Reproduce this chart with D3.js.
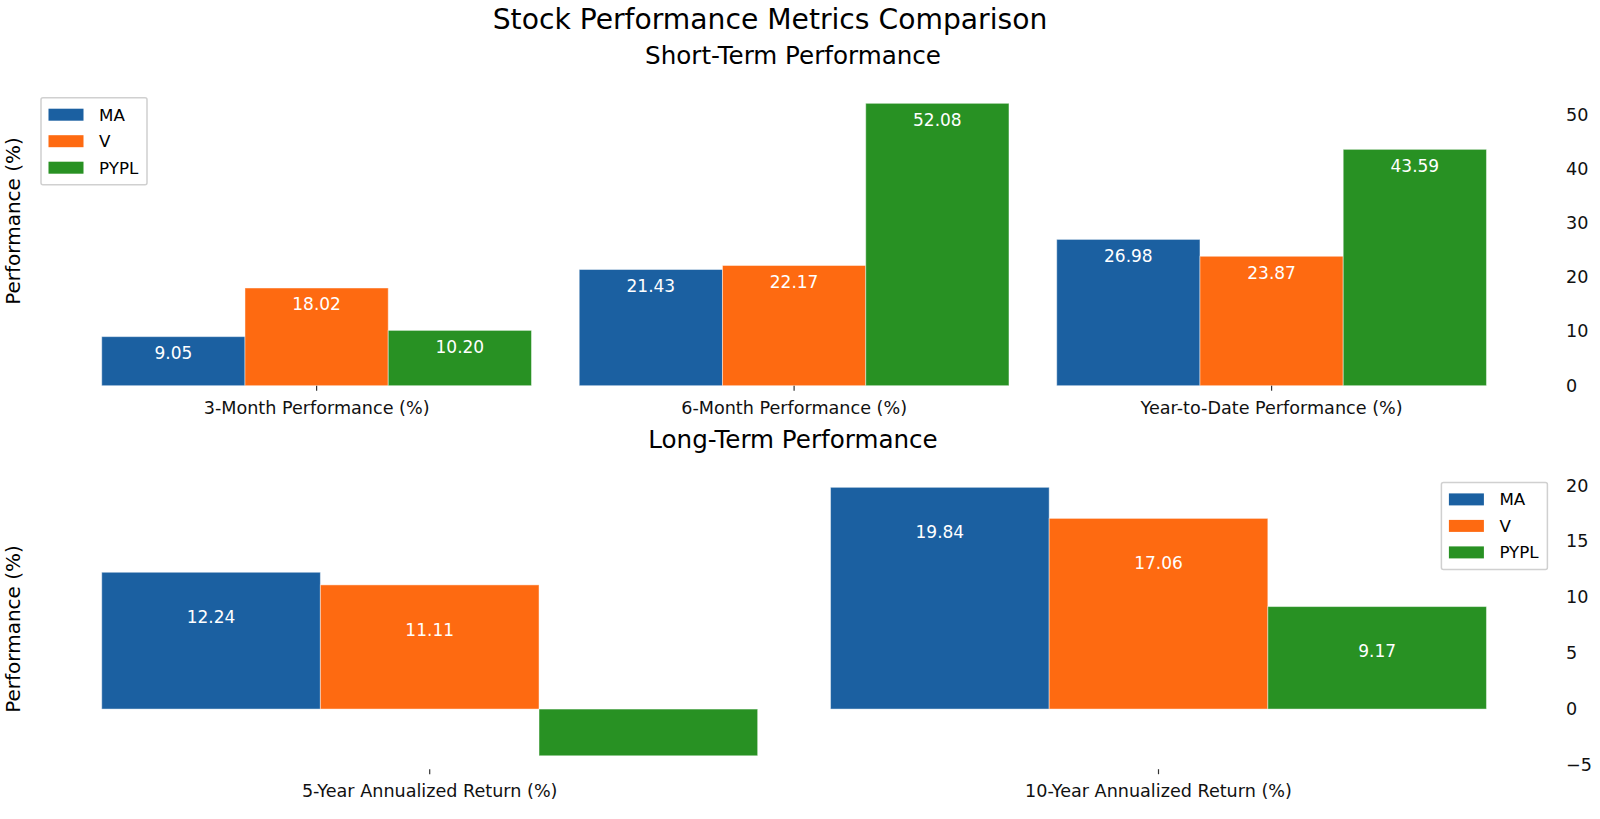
<!DOCTYPE html>
<html>
<head>
<meta charset="utf-8">
<script src="https://cdn.jsdelivr.net/npm/d3@7"></script>
<style>
  body { margin: 0; background: #fff; }
  text { font-family: "DejaVu Sans", sans-serif; }
</style>
</head>
<body>
<div id="chart"></div>
<script>
// Data
const stocks = ["MA", "V", "PYPL"];
const colors = ["#1b60a1", "#fe6a11", "#289123"];

const shortCategories = ["3-Month Performance (%)", "6-Month Performance (%)", "Year-to-Date Performance (%)"];
const shortMA = [9.05, 21.43, 26.98];
const shortV = [18.02, 22.17, 23.87];
const shortPYPL = [10.20, 52.08, 43.59];
const shortTicks = [0, 10, 20, 30, 40, 50];

const longCategories = ["5-Year Annualized Return (%)", "10-Year Annualized Return (%)"];
const longMA = [12.24, 19.84];
const longV = [11.11, 17.06];
const longPYPL = [-4.18, 9.17];
const longTicks = [-5, 0, 5, 10, 15, 20];

const W = 1600, H = 819;
const barW = 0.3;

const svg = d3.select("#chart")
  .append("svg")
  .attr("width", W)
  .attr("height", H);

svg.append("text")
  .attr("x", 770).attr("y", 19)
  .attr("text-anchor", "middle")
  .attr("dominant-baseline", "central")
  .style("font-size", "28.2px")
  .text("Stock Performance Metrics Comparison");

function drawPanel(opts) {
  const { categories, series, ticks, top, bottom, title, titleY, labelY, labelOffset, legendPos, yLabelY } = opts;
  const n = categories.length;
  const span = (n - 1) + 3 * barW;
  const x = d3.scaleLinear()
    .domain([-1.5 * barW - 0.05 * span, n - 1 + 1.5 * barW + 0.05 * span])
    .range([32.5, 1555.7]);

  const all = series.flat();
  let lo = Math.min(0, d3.min(all)), hi = d3.max(all);
  const r = hi - lo;
  const y = d3.scaleLinear()
    .domain([lo < 0 ? lo - 0.05 * r : 0, hi + 0.05 * r])
    .range([bottom, top]);

  const g = svg.append("g");

  // Title
  svg.append("text")
    .attr("x", 793).attr("y", titleY)
    .attr("text-anchor", "middle")
    .attr("dominant-baseline", "central")
    .style("font-size", "24.6px")
    .text(title);

  // Bars
  series.forEach((vals, j) => {
    g.selectAll(".bar-" + j)
      .data(vals)
      .enter().append("rect")
      .attr("x", (d, i) => x(i + (j - 1) * barW - barW / 2))
      .attr("width", x(barW) - x(0))
      .attr("y", d => y(Math.max(d, 0)))
      .attr("height", d => Math.abs(y(d) - y(0)))
      .attr("fill", colors[j])
      .attr("stroke", "#fff")
      .attr("stroke-opacity", 0.45)
      .attr("stroke-width", 1);

    g.selectAll(".lbl-" + j)
      .data(vals.map((d, i) => ({ d, i })).filter(o => o.d > 0))
      .enter().append("text")
      .attr("x", o => x(o.i + (j - 1) * barW))
      .attr("y", o => y(o.d - labelOffset))
      .attr("text-anchor", "middle")
      .attr("dominant-baseline", "central")
      .attr("fill", "#fff")
      .style("font-size", "17px")
      .text(o => o.d.toFixed(2));
  });

  // X ticks
  const xt = g.selectAll(".xtick")
    .data(categories)
    .enter().append("g")
    .attr("transform", (d, i) => `translate(${x(i)},${bottom})`);
  xt.append("line").attr("y1", 0).attr("y2", 5).attr("stroke", "#333").attr("stroke-width", 1.2);
  xt.append("text")
    .attr("y", labelY - bottom)
    .attr("text-anchor", "middle")
    .attr("dominant-baseline", "central")
    .style("font-size", "17.6px")
    .attr("fill", "#111")
    .text(d => d);

  // Y axis on the right
  g.selectAll(".ytick")
    .data(ticks)
    .enter().append("text")
    .attr("x", 1566)
    .attr("y", d => y(d))
    .attr("dominant-baseline", "central")
    .style("font-size", "17.6px")
    .attr("fill", "#111")
    .text(d => d3.format("d")(d).replace("-", "\u2212"));

  // Y label
  svg.append("text")
    .attr("transform", `translate(13,${yLabelY}) rotate(-90)`)
    .attr("text-anchor", "middle")
    .attr("dominant-baseline", "central")
    .style("font-size", "20px")
    .text("Performance (%)");

  // Legend
  const lw = 106, lh = 87;
  const lx = legendPos === "left" ? 41 : 1555.7 - 8.3 - lw;
  const ly = top + 8.5;
  const leg = svg.append("g").attr("transform", `translate(${lx},${ly})`);
  leg.append("rect")
    .attr("width", lw).attr("height", lh)
    .attr("rx", 2)
    .attr("fill", "#fff").attr("fill-opacity", 0.8)
    .attr("stroke", "#d0d0d0").attr("stroke-width", 1.5);
  stocks.forEach((s, j) => {
    const cy = 17 + j * 26.5;
    leg.append("rect")
      .attr("x", 7.5).attr("y", cy - 6)
      .attr("width", 35).attr("height", 12)
      .attr("fill", colors[j]);
    leg.append("text")
      .attr("x", 58).attr("y", cy)
      .attr("dominant-baseline", "central")
      .style("font-size", "16.7px")
      .text(s);
  });
}

drawPanel({
  categories: shortCategories,
  series: [shortMA, shortV, shortPYPL],
  ticks: shortTicks,
  top: 89.2, bottom: 385.7,
  title: "Short-Term Performance", titleY: 55,
  labelY: 408, labelOffset: 3,
  legendPos: "left", yLabelY: 221
});

drawPanel({
  categories: longCategories,
  series: [longMA, longV, longPYPL],
  ticks: longTicks,
  top: 473.9, bottom: 769.2,
  title: "Long-Term Performance", titleY: 439,
  labelY: 791, labelOffset: 4,
  legendPos: "right", yLabelY: 629
});
</script>
</body>
</html>
